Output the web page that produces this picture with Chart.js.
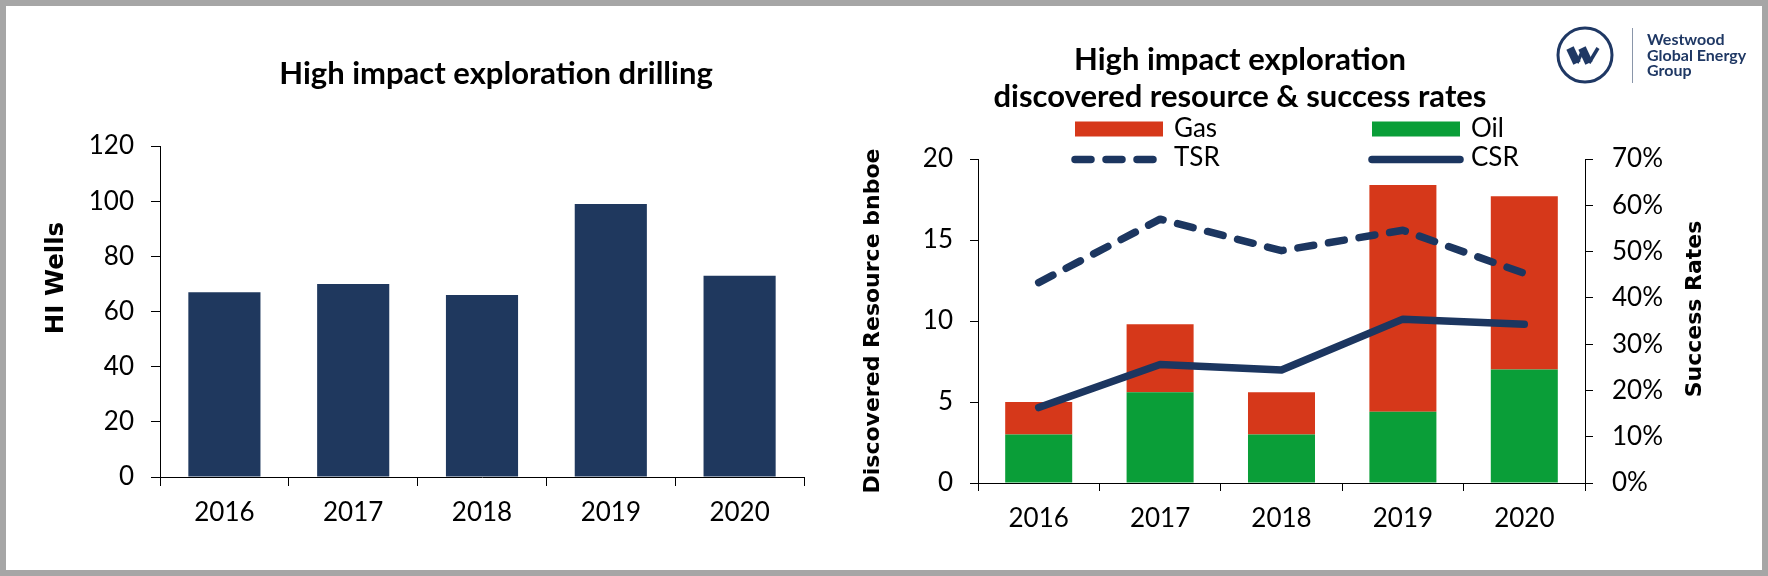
<!DOCTYPE html>
<html>
<head>
<meta charset="utf-8">
<script src="https://cdn.jsdelivr.net/npm/chart.js@4.4.1/dist/chart.umd.min.js"></script>
<style>
  body { margin: 0; width: 1768px; height: 576px; background: #a6a6a6; overflow: hidden; position: relative; }
  #sheet { position: absolute; left: 6px; top: 6px; width: 1756px; height: 564px; background: #fff; }
  canvas { position: absolute; left: 0; top: 0; }
  .ttl { position: absolute; width: 600px; text-align: center; font: 700 31px Lato; line-height: 36.5px; color: #000; white-space: nowrap; }
  .axt { position: absolute; width: 400px; height: 26px; text-align: center; font: bold 22px "DejaVu Sans"; line-height: 26px; color: #000; transform: rotate(-90deg); white-space: nowrap; }
  .logo-text { position: absolute; left: 1647px; top: 31px; font: 700 16px Lato; line-height: 15.7px; color: #1f3864; }
</style>
</head>
<body>
<div id="sheet"></div>
<canvas id="wellsChart" width="1768" height="576"></canvas>
<canvas id="resourceChart" width="1768" height="576"></canvas>

<div class="ttl" style="left:196px;top:54px;">High impact exploration drilling</div>
<div class="ttl" style="left:940px;top:40px;">High impact exploration<br>discovered resource &amp; success rates</div>
<div class="axt" style="left:-145px;top:265px;font-size:24.5px;">HI Wells</div>
<div class="axt" style="left:672px;top:308px;">Discovered Resource bnboe</div>
<div class="axt" style="left:1494px;top:296px;">Success Rates</div>

<svg style="position:absolute;left:1550px;top:20px" width="80" height="72">
  <circle cx="35" cy="35" r="27" fill="none" stroke="#1f3864" stroke-width="3"/>
  <g stroke="#1f3864" stroke-linecap="butt">
    <line x1="20" y1="28" x2="27" y2="43" stroke-width="8"/>
    <line x1="27" y1="43" x2="33" y2="30" stroke-width="3.5"/>
    <line x1="32" y1="28" x2="39" y2="43" stroke-width="8"/>
    <line x1="39" y1="43" x2="48" y2="28" stroke-width="3.5"/>
  </g>
</svg>
<div style="position:absolute;left:1632px;top:28px;width:1px;height:55px;background:#8a96aa;"></div>
<div class="logo-text">Westwood<br>Global Energy<br>Group</div>

<script>
// data
const years = ['2016', '2017', '2018', '2019', '2020'];
const hiWells = [67, 70, 66, 99, 73];
const wellTicks = [0, 20, 40, 60, 80, 100, 120];

const oilBnboe = [3.0, 5.6, 3.0, 4.4, 7.0];
const gasBnboe = [2.0, 4.2, 2.6, 14.0, 10.7];
const resourceTicks = [0, 5, 10, 15, 20];

const tsrPct = [43.3, 57.0, 50.2, 54.6, 45.3];
const csrPct = [16.3, 25.6, 24.4, 35.4, 34.3];
const rateTicks = [0, 10, 20, 30, 40, 50, 60, 70];

const legendOrder = ['Gas', 'Oil', 'TSR', 'CSR'];

const NAVY = '#1f385e';
const LINE_NAVY = '#1c3660';
const GAS_RED = '#d6381a';
const OIL_GREEN = '#0a9e38';

Chart.defaults.font.family = 'Lato';
Chart.defaults.color = '#000';
Chart.defaults.animation = false;

const useTicks = list => scale => { scale.ticks = list.map(v => ({ value: v })); };

function axisStyle(tickLength, padding) {
  return {
    grid: { drawOnChartArea: false, drawTicks: true, tickLength: tickLength, color: '#000', lineWidth: 1 },
    border: { display: true, color: '#000', width: 1 },
    ticks: { padding: padding, font: { size: 26 }, color: '#000', maxRotation: 0, autoSkip: false }
  };
}

// 2x2 legend like the reference (Chart's own legend can only flow in rows)
const gridLegend = {
  id: 'gridLegend',
  afterDraw(chart, args, opts) {
    if (!opts.items) return;
    const ctx = chart.ctx;
    ctx.save();
    ctx.font = '26px Lato';
    ctx.textBaseline = 'alphabetic';
    opts.items.forEach((label, i) => {
      const ds = chart.data.datasets.find(d => d.label === label);
      const x = opts.cols[i % 2];
      const row = Math.floor(i / 2);
      const y = opts.rows[row];
      if (ds.type === 'line') {
        ctx.strokeStyle = ds.borderColor;
        ctx.lineWidth = ds.borderWidth;
        ctx.lineCap = 'round';
        ctx.setLineDash(ds.borderDash || []);
        ctx.beginPath();
        ctx.moveTo(x, y);
        ctx.lineTo(x + opts.swatch, y);
        ctx.stroke();
        ctx.setLineDash([]);
      } else {
        ctx.fillStyle = ds.backgroundColor;
        ctx.fillRect(x, y - 7.5, opts.swatch, 15);
      }
      ctx.fillStyle = '#000';
      ctx.fillText(label, x + opts.swatch + 11, opts.textRows[row]);
    });
    ctx.restore();
  }
};

// left: HI wells
const wx = axisStyle(9, 11);
const wy = axisStyle(9, 17);
new Chart(document.getElementById('wellsChart'), {
  type: 'bar',
  data: {
    labels: years,
    datasets: [{
      label: 'HI Wells',
      data: hiWells,
      backgroundColor: NAVY,
      borderWidth: 0,
      barPercentage: 0.8,
      categoryPercentage: 0.7
    }]
  },
  options: {
    responsive: false,
    layout: { padding: { left: 0, right: 1768 - 804, top: 146, bottom: 0 } },
    plugins: { legend: { display: false }, tooltip: { enabled: false }, title: { display: false } },
    scales: {
      x: { ...wx, grid: { ...wx.grid, offset: true }, afterFit: s => { s.height = 99; } },
      y: { ...wy, min: 0, max: 120, afterBuildTicks: useTicks(wellTicks), afterFit: s => { s.width = 160; } }
    }
  }
});

// right: discovered resource and success rates
const rx = axisStyle(8, 12);
const ry = axisStyle(8, 17);
const ry1 = axisStyle(8, 19);
new Chart(document.getElementById('resourceChart'), {
  type: 'bar',
  data: {
    labels: years,
    datasets: [
      { type: 'line', label: 'TSR', data: tsrPct, yAxisID: 'y1', order: 0,
        borderColor: LINE_NAVY, borderWidth: 7.5, borderDash: [16, 15], borderCapStyle: 'round',
        borderJoinStyle: 'round', pointRadius: 0, fill: false, tension: 0 },
      { type: 'line', label: 'CSR', data: csrPct, yAxisID: 'y1', order: 0,
        borderColor: LINE_NAVY, borderWidth: 7.5, borderCapStyle: 'round',
        borderJoinStyle: 'round', pointRadius: 0, fill: false, tension: 0 },
      { label: 'Oil', data: oilBnboe, backgroundColor: OIL_GREEN, borderWidth: 0, order: 1,
        yAxisID: 'y', barPercentage: 0.8, categoryPercentage: 0.69 },
      { label: 'Gas', data: gasBnboe, backgroundColor: GAS_RED, borderWidth: 0, order: 1,
        yAxisID: 'y', barPercentage: 0.8, categoryPercentage: 0.69 }
    ]
  },
  options: {
    responsive: false,
    layout: { padding: { left: 870, right: 0, top: 159, bottom: 0 } },
    plugins: {
      legend: { display: false },
      tooltip: { enabled: false },
      gridLegend: { items: legendOrder, cols: [1075, 1372], rows: [129, 159.5], textRows: [137, 166], swatch: 88 }
    },
    scales: {
      x: { ...rx, stacked: true, grid: { ...rx.grid, offset: true }, afterFit: s => { s.height = 93; } },
      y: { ...ry, stacked: true, position: 'left', min: 0, max: 20,
           afterBuildTicks: useTicks(resourceTicks), afterFit: s => { s.width = 108; } },
      y1: { ...ry1, position: 'right', min: 0, max: 70,
            ticks: { ...ry1.ticks, callback: v => v + '%' },
            afterBuildTicks: useTicks(rateTicks), afterFit: s => { s.width = 183; } }
    }
  },
  plugins: [gridLegend]
});
</script>
</body>
</html>
